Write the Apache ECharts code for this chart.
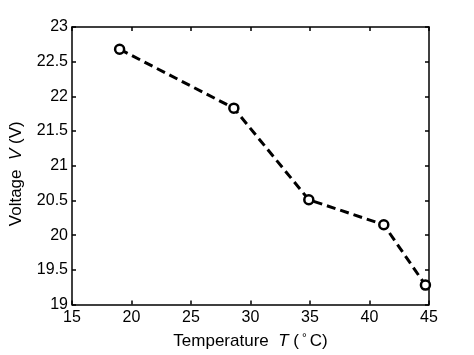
<!DOCTYPE html>
<html><head><meta charset="utf-8">
<script src="https://cdn.jsdelivr.net/npm/echarts@6/dist/echarts.min.js"></script>
<style>html,body{margin:0;padding:0;background:#fff}#c{width:474px;height:355px}</style>
</head><body><div id="c"></div>
<script>
const temperature = [19.0, 28.6, 34.9, 41.2, 44.7];
const voltage = [22.68, 21.83, 20.51, 20.15, 19.28];
const xTicks = [15, 20, 25, 30, 35, 40, 45];
const yTicks = [19, 19.5, 20, 20.5, 21, 21.5, 22, 22.5, 23];

const font = 'Liberation Sans, Arial, sans-serif';
const chart = echarts.init(document.getElementById('c'), null, {renderer: 'canvas'});
const axisCommon = {
  axisLine: {show: true, lineStyle: {color: '#000', width: 1.5}},
  axisTick: {show: true, inside: true, length: 4, lineStyle: {color: '#000', width: 1.5}},
  splitLine: {show: false}
};
chart.setOption({
  backgroundColor: '#fff',
  animation: false,
  grid: {left: 65, top: 27, right: 45, bottom: 49},
  xAxis: [
    Object.assign({type: 'value', min: xTicks[0], max: xTicks[xTicks.length-1], interval: 5, position: 'bottom',
      axisLabel: {color: '#000', fontSize: 16, fontFamily: font, margin: 5},
      name: '{a|Temperature  }{i|T}{a| (}{s|°}{a|C)}', nameLocation: 'middle', nameGap: 28,
      nameTextStyle: {color: '#000', fontSize: 17, fontFamily: font,
        rich: {a: {fontSize: 17, fontFamily: font, color: '#000'}, i: {fontSize: 17, fontFamily: font, fontStyle: 'italic', color: '#000'}, s: {fontSize: 12, fontFamily: font, color: '#000', verticalAlign: 'top', padding: [0,3,6,3]}}}
    }, axisCommon),
    Object.assign({type: 'value', min: xTicks[0], max: xTicks[xTicks.length-1], interval: 5, position: 'top',
      axisLabel: {show: false}}, axisCommon)
  ],
  yAxis: [
    Object.assign({type: 'value', min: yTicks[0], max: yTicks[yTicks.length-1], interval: 0.5, position: 'left',
      axisLabel: {color: '#000', fontSize: 16, fontFamily: font, margin: 4},
      name: '{a|Voltage  }{i|V}{a| (V)}', nameLocation: 'middle', nameGap: 47, nameRotate: 90,
      nameTextStyle: {color: '#000', fontSize: 17, fontFamily: font, padding: [0, 16, 0, 0],
        rich: {a: {fontSize: 17, fontFamily: font, color: '#000'}, i: {fontSize: 17, fontFamily: font, fontStyle: 'italic', color: '#000'}}}
    }, axisCommon),
    Object.assign({type: 'value', min: yTicks[0], max: yTicks[yTicks.length-1], interval: 0.5, position: 'right',
      axisLabel: {show: false}}, axisCommon)
  ],
  series: [{
    type: 'line',
    data: temperature.map((t, i) => [t, voltage[i]]),
    symbol: 'circle', symbolSize: 9,
    itemStyle: {color: '#fff', borderColor: '#000', borderWidth: 2.5},
    lineStyle: {color: '#000', width: 3, type: [9, 5]},
    z: 5
  }]
});
</script></body></html>
